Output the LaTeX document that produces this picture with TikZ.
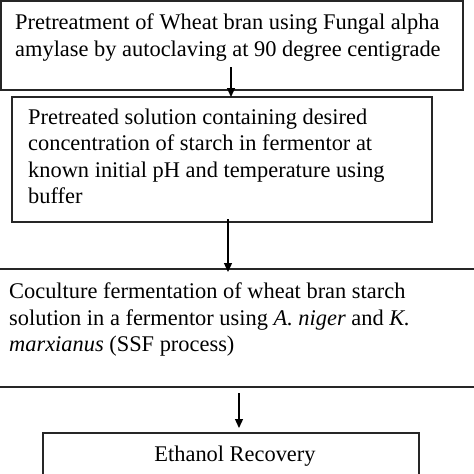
\documentclass[tikz,border=0pt]{standalone}
\usepackage{fontspec}
\setmainfont{Liberation Serif}
\usetikzlibrary{arrows.meta}
\begin{document}
\begin{tikzpicture}[x=1pt,y=-1pt,
    frame/.style={draw=black!85,line width=1.6pt,inner sep=0pt,outer sep=0pt,anchor=north west},
    txt/.style={align=left,inner sep=0pt,anchor=base west,font=\fontsize{22.4}{26.5}\selectfont},
    flow/.style={line width=1.3pt,-{Triangle[length=9pt,width=8pt]}}]
    \useasboundingbox (0,0) rectangle (474,474);
    \node[frame,line width=2.2pt,minimum width=462pt,minimum height=89pt] (b1) at (1,1) {};
    \node[frame,minimum width=420pt,minimum height=125pt] (b2) at (12,97) {};
    \node[frame,minimum width=485pt,minimum height=118pt] (b3) at (-5,269) {};
    \node[frame,minimum width=376pt,minimum height=60pt] (b4) at (43,433) {};
    \node[txt] (t1) at (15,56) {Pretreatment of Wheat bran using Fungal alpha\\amylase by autoclaving at 90 degree centigrade};
    \node[txt] (t2) at (28,203.5) {Pretreated solution containing desired\\concentration of starch in fermentor at\\known initial pH and temperature using\\buffer};
    \node[txt] (t3) at (9,351.5) {Coculture fermentation of wheat bran starch\\solution in a fermentor using \textit{A. niger} and \textit{K.}\\\textit{marxianus} (SSF process)};
    \node[txt,anchor=base] (t4) at (235,461) {Ethanol Recovery};
    \coordinate (s1) at (231,67);
    \coordinate (s2) at (228,219);
    \coordinate (s3) at (239,393);
    \draw[flow] (s1) -- (s1 |- b2.north);
    \draw[flow] (s2) -- ([yshift=-3pt]s2 |- b3.north);
    \draw[flow,shorten >=5pt] (s3) -- (s3 |- b4.north);
\end{tikzpicture}
\end{document}
